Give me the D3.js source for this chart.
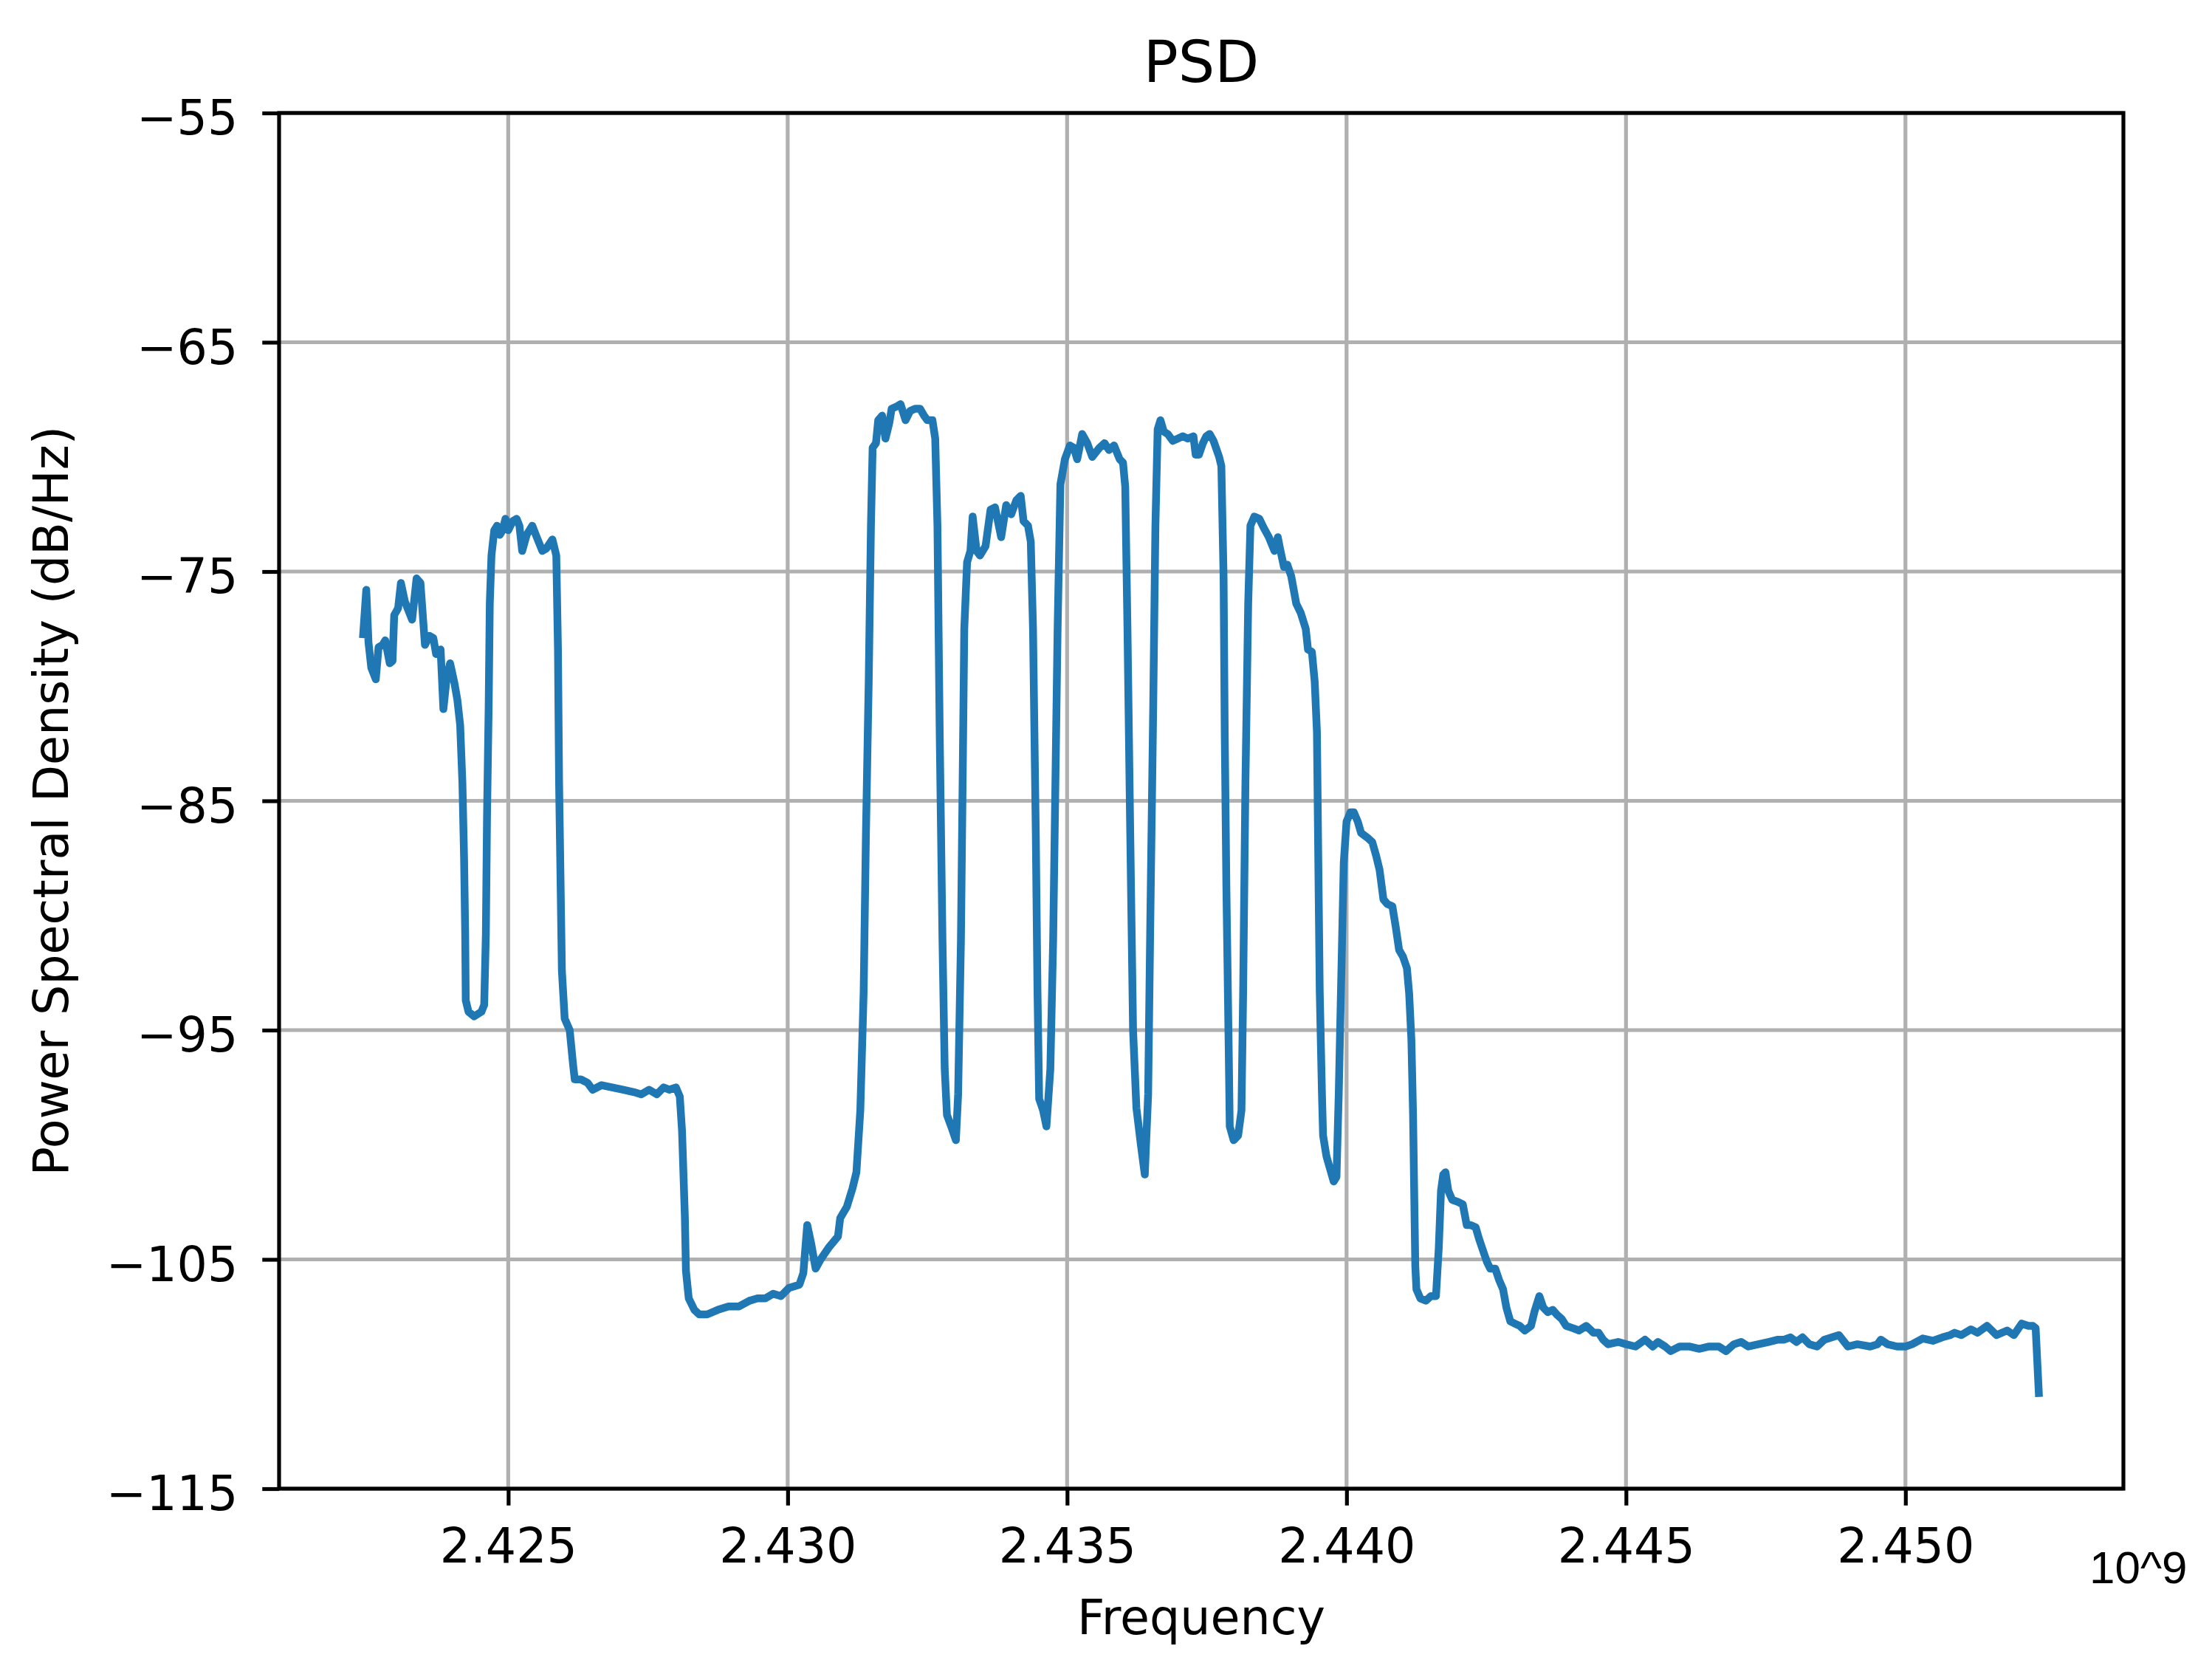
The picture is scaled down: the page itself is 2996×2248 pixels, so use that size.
<!DOCTYPE html>
<html>
<head>
<meta charset="utf-8">
<script src="https://cdn.jsdelivr.net/npm/d3@7"></script>
<style>
  html, body { margin: 0; padding: 0; background: #fff; }
  svg { display: block; }
</style>
</head>
<body>
<svg id="chart" width="2996" height="2248"></svg>
<script>
// PSD trace (frequency in MHz, level in dB/Hz)
var freqMHz = [
	2422.40, 2422.46, 2422.50, 2422.55, 2422.63, 2422.68, 2422.75, 2422.80, 2422.88, 2422.93,
	2422.96, 2423.03, 2423.08, 2423.15, 2423.28, 2423.36, 2423.43, 2423.51, 2423.59, 2423.66,
	2423.71, 2423.79, 2423.84, 2423.90, 2423.96, 2424.04, 2424.09, 2424.14, 2424.18, 2424.21,
	2424.23, 2424.24, 2424.29, 2424.39, 2424.52, 2424.57, 2424.60, 2424.62, 2424.65, 2424.67,
	2424.70, 2424.75, 2424.80, 2424.85, 2424.90, 2424.95, 2425.00, 2425.08, 2425.15, 2425.20,
	2425.25, 2425.33, 2425.43, 2425.51, 2425.61, 2425.68, 2425.79, 2425.86, 2425.89, 2425.91,
	2425.94, 2425.96, 2426.01, 2426.10, 2426.16, 2426.19, 2426.30, 2426.42, 2426.51, 2426.67,
	2426.86, 2427.05, 2427.24, 2427.38, 2427.52, 2427.66, 2427.78, 2427.88, 2428.00, 2428.07,
	2428.11, 2428.16, 2428.18, 2428.23, 2428.33, 2428.42, 2428.56, 2428.75, 2428.94, 2429.13,
	2429.32, 2429.46, 2429.60, 2429.74, 2429.88, 2430.02, 2430.21, 2430.28, 2430.35, 2430.42,
	2430.50, 2430.59, 2430.73, 2430.90, 2430.94, 2431.06, 2431.16, 2431.23, 2431.30, 2431.36,
	2431.40, 2431.45, 2431.49, 2431.52, 2431.58, 2431.62, 2431.69, 2431.75, 2431.82, 2431.86,
	2431.95, 2432.02, 2432.11, 2432.19, 2432.28, 2432.37, 2432.44, 2432.50, 2432.59, 2432.64,
	2432.68, 2432.72, 2432.77, 2432.81, 2432.85, 2432.94, 2433.01, 2433.05, 2433.10, 2433.13,
	2433.16, 2433.21, 2433.27, 2433.31, 2433.38, 2433.44, 2433.54, 2433.63, 2433.71, 2433.82,
	2433.91, 2434.00, 2434.09, 2434.17, 2434.22, 2434.30, 2434.35, 2434.39, 2434.44, 2434.47,
	2434.50, 2434.57, 2434.63, 2434.70, 2434.75, 2434.79, 2434.83, 2434.88, 2434.96, 2435.05,
	2435.12, 2435.18, 2435.27, 2435.36, 2435.45, 2435.58, 2435.67, 2435.75, 2435.84, 2435.94,
	2436.00, 2436.04, 2436.08, 2436.13, 2436.18, 2436.24, 2436.32, 2436.39, 2436.45, 2436.49,
	2436.54, 2436.58, 2436.62, 2436.67, 2436.73, 2436.80, 2436.89, 2436.98, 2437.07, 2437.16,
	2437.26, 2437.30, 2437.36, 2437.43, 2437.49, 2437.55, 2437.62, 2437.72, 2437.76, 2437.80,
	2437.82, 2437.85, 2437.89, 2437.91, 2437.98, 2438.06, 2438.12, 2438.15, 2438.19, 2438.24,
	2438.28, 2438.35, 2438.44, 2438.52, 2438.61, 2438.71, 2438.77, 2438.81, 2438.88, 2438.94,
	2439.01, 2439.10, 2439.18, 2439.27, 2439.31, 2439.38, 2439.43, 2439.47, 2439.49, 2439.52,
	2439.56, 2439.58, 2439.64, 2439.71, 2439.77, 2439.82, 2439.86, 2439.90, 2439.95, 2440.00,
	2440.07, 2440.13, 2440.20, 2440.26, 2440.37, 2440.46, 2440.53, 2440.59, 2440.66, 2440.73,
	2440.82, 2440.88, 2440.94, 2441.01, 2441.08, 2441.12, 2441.16, 2441.19, 2441.21, 2441.23,
	2441.25, 2441.32, 2441.42, 2441.51, 2441.60, 2441.65, 2441.69, 2441.73, 2441.77, 2441.82,
	2441.89, 2442.00, 2442.08, 2442.15, 2442.22, 2442.31, 2442.37, 2442.44, 2442.51, 2442.57,
	2442.66, 2442.73, 2442.80, 2442.86, 2442.93, 2443.01, 2443.10, 2443.19, 2443.30, 2443.36,
	2443.45, 2443.52, 2443.60, 2443.69, 2443.76, 2443.85, 2443.93, 2444.05, 2444.16, 2444.29,
	2444.42, 2444.51, 2444.59, 2444.68, 2444.86, 2445.00, 2445.17, 2445.34, 2445.48, 2445.57,
	2445.70, 2445.80, 2445.96, 2446.13, 2446.31, 2446.49, 2446.66, 2446.79, 2446.93, 2447.06,
	2447.19, 2447.37, 2447.55, 2447.72, 2447.83, 2447.94, 2448.05, 2448.16, 2448.28, 2448.42,
	2448.55, 2448.81, 2448.97, 2449.14, 2449.37, 2449.50, 2449.56, 2449.68, 2449.85, 2450.00,
	2450.12, 2450.31, 2450.49, 2450.66, 2450.80, 2450.88, 2451.00, 2451.17, 2451.29, 2451.46,
	2451.63, 2451.82, 2451.94, 2452.08, 2452.20, 2452.28, 2452.33, 2452.39
];

var psdDb = [
	-77.9, -75.8, -78.1, -79.2, -79.7, -78.3, -78.2, -78.0, -79.0, -78.9,
	-76.9, -76.6, -75.5, -76.3, -77.1, -75.3, -75.5, -78.2, -77.8, -77.9,
	-78.6, -78.4, -81.0, -79.6, -79.0, -79.9, -80.6, -81.7, -84.2, -87.5,
	-90.8, -93.7, -94.2, -94.4, -94.2, -93.9, -90.8, -85.8, -80.9, -76.4,
	-74.3, -73.2, -73.0, -73.4, -73.2, -72.7, -73.2, -72.8, -72.7, -73.0,
	-74.1, -73.4, -73.0, -73.5, -74.1, -74.0, -73.6, -74.3, -78.4, -84.2,
	-89.1, -92.4, -94.5, -95.0, -96.5, -97.15, -97.15, -97.3, -97.6, -97.4,
	-97.5, -97.6, -97.7, -97.8, -97.6, -97.8, -97.5, -97.6, -97.5, -97.9,
	-99.4, -103.1, -105.5, -106.7, -107.2, -107.4, -107.4, -107.2, -107.05, -107.05,
	-106.8, -106.7, -106.7, -106.5, -106.6, -106.25, -106.1, -105.6, -103.5, -104.3,
	-105.4, -105.0, -104.5, -104.0, -103.2, -102.7, -101.9, -101.2, -98.5, -93.3,
	-86.5, -79.8, -73.0, -69.6, -69.4, -68.4, -68.2, -69.2, -68.5, -67.9,
	-67.8, -67.7, -68.4, -68.0, -67.9, -67.9, -68.2, -68.4, -68.4, -69.2,
	-73.0, -82.0, -91.1, -96.7, -98.7, -99.3, -99.8, -97.8, -91.1, -84.3,
	-77.5, -74.6, -74.1, -72.6, -74.1, -74.3, -73.9, -72.3, -72.2, -73.5,
	-72.1, -72.5, -71.9, -71.7, -72.8, -73.0, -73.7, -77.5, -86.5, -93.3,
	-98.0, -98.5, -99.2, -96.7, -91.1, -84.3, -77.5, -71.2, -70.1, -69.5,
	-69.6, -70.1, -69.0, -69.4, -70.0, -69.6, -69.4, -69.7, -69.5, -70.1,
	-70.25, -71.3, -77.5, -86.5, -95.0, -98.4, -100.0, -101.3, -97.8, -90.0,
	-81.0, -73.0, -68.8, -68.4, -68.9, -69.0, -69.3, -69.2, -69.1, -69.2,
	-69.1, -69.9, -69.9, -69.4, -69.1, -69.0, -69.3, -70.0, -70.4, -75.3,
	-82.0, -88.8, -95.6, -99.2, -99.8, -99.6, -98.5, -93.3, -84.3, -76.4,
	-73.0, -72.6, -72.7, -73.1, -73.5, -74.1, -73.5, -74.0, -74.8, -74.7,
	-75.2, -76.4, -76.8, -77.5, -78.4, -78.5, -79.8, -82.0, -86.6, -93.3,
	-97.8, -99.6, -100.5, -101.1, -101.6, -101.4, -97.8, -93.3, -87.7, -85.9,
	-85.5, -85.5, -85.9, -86.4, -86.6, -86.8, -87.4, -88.0, -89.3, -89.5,
	-89.6, -90.5, -91.5, -91.8, -92.3, -93.4, -95.4, -98.7, -102.0, -105.3,
	-106.3, -106.7, -106.8, -106.6, -106.6, -104.5, -102.0, -101.3, -101.2, -102.0,
	-102.4, -102.5, -102.6, -103.5, -103.5, -103.6, -104.1, -104.6, -105.1, -105.4,
	-105.4, -105.9, -106.3, -107.1, -107.7, -107.8, -107.9, -108.1, -107.9, -107.3,
	-106.6, -107.1, -107.3, -107.2, -107.4, -107.6, -107.9, -108.0, -108.1, -107.9,
	-108.2, -108.2, -108.5, -108.7, -108.6, -108.7, -108.8, -108.5, -108.8, -108.6,
	-108.8, -109.0, -108.8, -108.8, -108.9, -108.8, -108.8, -109.0, -108.7, -108.6,
	-108.8, -108.7, -108.6, -108.5, -108.5, -108.4, -108.6, -108.4, -108.7, -108.8,
	-108.5, -108.3, -108.8, -108.7, -108.8, -108.7, -108.5, -108.7, -108.8, -108.8,
	-108.7, -108.45, -108.55, -108.4, -108.3, -108.2, -108.3, -108.05, -108.2, -107.9,
	-108.3, -108.1, -108.3, -107.8, -107.9, -107.9, -108.0, -111.0
];

var xTicks = [2425, 2430, 2435, 2440, 2445, 2450];
var yTicks = [-55, -65, -75, -85, -95, -105, -115];

var titleText = "PSD";
var xLabelText = "Frequency";
var yLabelText = "Power Spectral Density (dB/Hz)";
var xScaleText = "10^9";

// layout (px)
var W = 2996, H = 2248;
var margin = {top: 153, right: 120, bottom: 232, left: 378};
var width = W - margin.left - margin.right,
	height = H - margin.top - margin.bottom;

var lw = 5.2;          // spine / grid / tick width
var tickLen = 22.75;
var fontFamily = "'DejaVu Sans', sans-serif";

var svg = d3.select("#chart");
svg.append("rect").attr("width", W).attr("height", H).attr("fill", "#fff");

var g = svg.append("g")
	.attr("transform", "translate(" + margin.left + "," + margin.top + ")");

var x = d3.scaleLinear().domain([2420.9, 2453.9]).range([0, width]);
var y = d3.scaleLinear().domain([-115, -55]).range([height, 0]);

// grid
g.append("g").attr("class", "grid-x")
	.selectAll("line").data(xTicks).enter().append("line")
	.attr("x1", function(d) { return x(d); })
	.attr("x2", function(d) { return x(d); })
	.attr("y1", 0).attr("y2", height)
	.attr("stroke", "#b0b0b0").attr("stroke-width", lw);

g.append("g").attr("class", "grid-y")
	.selectAll("line").data(yTicks).enter().append("line")
	.attr("x1", 0).attr("x2", width)
	.attr("y1", function(d) { return y(d); })
	.attr("y2", function(d) { return y(d); })
	.attr("stroke", "#b0b0b0").attr("stroke-width", lw);

// trace
var points = freqMHz.map(function(f, i) { return [f, psdDb[i]]; });
var line = d3.line()
	.x(function(d) { return x(d[0]); })
	.y(function(d) { return y(d[1]); });

g.append("path")
	.datum(points)
	.attr("d", line)
	.attr("fill", "none")
	.attr("stroke", "#1f77b4")
	.attr("stroke-width", 10.5)
	.attr("stroke-linejoin", "round")
	.attr("stroke-linecap", "butt");

// axes
var xAxis = d3.axisBottom(x)
	.tickValues(xTicks)
	.tickSize(tickLen)
	.tickPadding(31)
	.tickFormat(function(d) { return (d / 1000).toFixed(3); });

var yAxis = d3.axisLeft(y)
	.tickValues(yTicks)
	.tickSize(tickLen)
	.tickPadding(33)
	.tickFormat(d3.format("d"));

var gx = g.append("g")
	.attr("transform", "translate(0," + height + ")")
	.call(xAxis);
var gy = g.append("g").call(yAxis);

[gx, gy].forEach(function(a) {
	a.select(".domain").remove();
	a.attr("font-family", null).attr("font-size", null);
	a.selectAll(".tick line").attr("stroke", "#000").attr("stroke-width", lw);
	a.selectAll(".tick text")
		.attr("fill", "#000")
		.style("font-family", fontFamily)
		.style("font-size", "65px");
});
gy.selectAll(".tick text").attr("dy", "0.44em");

// spines on top
g.append("rect")
	.attr("width", width).attr("height", height)
	.attr("fill", "none")
	.attr("stroke", "#000")
	.attr("stroke-width", lw);

// texts
svg.append("text")
	.attr("x", margin.left + width / 2).attr("y", 111)
	.attr("text-anchor", "middle")
	.style("font-family", fontFamily).style("font-size", "78px")
	.text(titleText);

svg.append("text")
	.attr("x", margin.left + width / 2).attr("y", 2213)
	.attr("text-anchor", "middle")
	.style("font-family", fontFamily).style("font-size", "65px")
	.text(xLabelText);

svg.append("text")
	.attr("transform", "translate(92," + (margin.top + height / 2) + ") rotate(-90)")
	.attr("text-anchor", "middle")
	.style("font-family", fontFamily).style("font-size", "65px")
	.text(yLabelText);

svg.append("text")
	.attr("x", 2830).attr("y", 2144)
	.style("font-family", "'Liberation Sans', sans-serif").style("font-size", "62px")
	.text(xScaleText);
</script>
</body>
</html>
